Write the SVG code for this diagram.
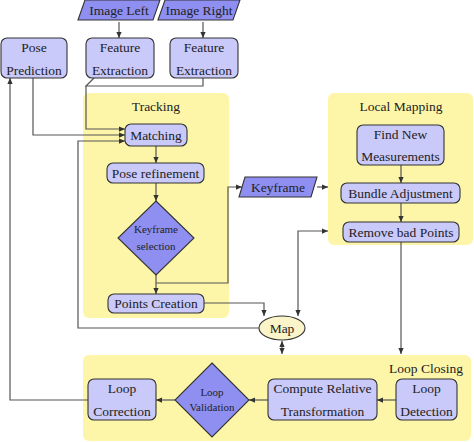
<svg xmlns="http://www.w3.org/2000/svg" width="474" height="442" viewBox="0 0 474 442" font-family="'Liberation Serif', 'Times New Roman', Times, serif">
<defs>
<style>
text{font-family:'Liberation Serif','Times New Roman',Times,'DejaVu Serif',serif;font-size:13.5px;fill:#222;text-anchor:middle}
.small{font-size:11px}
.grp{fill:#fdf6a8;stroke:none}
.box{fill:#c9c9fa;stroke:#333;stroke-width:1.1}
.dark{fill:#8f8ff2;stroke:#333;stroke-width:1.1}
.map{fill:#fbf4c8;stroke:#333;stroke-width:1.1}
.c{fill:none;stroke:#555;stroke-width:1.2}
</style>
<marker id="ah" viewBox="0 0 8 8" refX="8" refY="4" markerWidth="6" markerHeight="6" orient="auto-start-reverse" markerUnits="userSpaceOnUse">
<path d="M0,0.5 L8,4 L0,7.5 Z" fill="#333"/>
</marker>
</defs>
<g id="tracking">
<rect class="grp" x="83" y="93" width="146" height="225" rx="6"/>
<text x="156" y="111">Tracking</text>
</g>
<g id="local-mapping">
<rect class="grp" x="328" y="93" width="145" height="152" rx="6"/>
<text x="401" y="111">Local Mapping</text>
</g>
<g id="loop-closing">
<rect class="grp" x="83" y="355" width="388" height="86" rx="6"/>
<text x="463" y="373" style="text-anchor:end">Loop Closing</text>
</g>
<g id="connectors">
<path class="c" d="M119,22 V38" marker-end="url(#ah)"/>
<path class="c" d="M203,22 V38" marker-end="url(#ah)"/>
<path class="c" d="M94,78 L86,86 H203 V78"/>
<path class="c" d="M86,86 V129 H125" marker-end="url(#ah)"/>
<path class="c" d="M33,78 V135 H125" marker-end="url(#ah)"/>
<path class="c" d="M259,328 H78 V141 H125" marker-end="url(#ah)"/>
<path class="c" d="M156,146 V163" marker-end="url(#ah)"/>
<path class="c" d="M156,183 V201" marker-end="url(#ah)"/>
<path class="c" d="M156,275 V294" marker-end="url(#ah)"/>
<path class="c" d="M156,283 H228 V187 H242" marker-end="url(#ah)"/>
<path class="c" d="M317,187 H328" marker-end="url(#ah)"/>
<path class="c" d="M401,165 V183" marker-end="url(#ah)"/>
<path class="c" d="M401,203 V222" marker-end="url(#ah)"/>
<path class="c" d="M204,303 H264 V316" marker-end="url(#ah)"/>
<path class="c" d="M298,316 V231 H328" marker-start="url(#ah)" marker-end="url(#ah)"/>
<path class="c" d="M282,341 V354" marker-start="url(#ah)" marker-end="url(#ah)"/>
<path class="c" d="M401,242 V354" marker-end="url(#ah)"/>
<path class="c" d="M396,400 H377" marker-end="url(#ah)"/>
<path class="c" d="M268,400 H249" marker-end="url(#ah)"/>
<path class="c" d="M175,400 H156" marker-end="url(#ah)"/>
<path class="c" d="M88,400 H10 V78" marker-end="url(#ah)"/>
</g>
<g id="image-left">
<path class="dark" d="M85,0 H160 L153,20 H78 Z"/>
<text x="119" y="15">Image Left</text>
</g>
<g id="image-right">
<path class="dark" d="M165,0 H240 L233,20 H158 Z"/>
<text x="199" y="15">Image Right</text>
</g>
<g id="pose-prediction">
<rect class="box" x="1" y="38" width="66" height="40" rx="6"/>
<text x="34" y="52">Pose</text>
<text x="34" y="75">Prediction</text>
</g>
<g id="feature-extraction-left">
<rect class="box" x="86" y="38" width="68" height="40" rx="6"/>
<text x="120" y="52">Feature</text>
<text x="120" y="75">Extraction</text>
</g>
<g id="feature-extraction-right">
<rect class="box" x="170" y="38" width="68" height="40" rx="6"/>
<text x="204" y="52">Feature</text>
<text x="204" y="75">Extraction</text>
</g>
<g id="matching">
<rect class="box" x="125" y="124" width="62" height="22" rx="6"/>
<text x="156" y="139.5">Matching</text>
</g>
<g id="pose-refinement">
<rect class="box" x="107" y="163" width="97" height="20" rx="6"/>
<text x="155.5" y="177.5">Pose refinement</text>
</g>
<g id="keyframe-selection">
<path class="dark" d="M156,201 L194,238 L156,275 L118,238 Z"/>
<text class="small" x="156" y="233">Keyframe</text>
<text class="small" x="156" y="250">selection</text>
</g>
<g id="points-creation">
<rect class="box" x="108" y="294" width="96" height="19" rx="6"/>
<text x="156" y="308">Points Creation</text>
</g>
<g id="keyframe">
<path class="dark" d="M245,177 H317 L311,197 H239 Z"/>
<text x="278" y="191.5">Keyframe</text>
</g>
<g id="find-new-measurements">
<rect class="box" x="357" y="125" width="87" height="40" rx="6"/>
<text x="400.5" y="139">Find New</text>
<text x="400.5" y="161">Measurements</text>
</g>
<g id="bundle-adjustment">
<rect class="box" x="341" y="183" width="119" height="20" rx="6"/>
<text x="400.5" y="197.5">Bundle Adjustment</text>
</g>
<g id="remove-bad-points">
<rect class="box" x="343" y="222" width="116" height="20" rx="6"/>
<text x="401" y="236.5">Remove bad Points</text>
</g>
<g id="map">
<ellipse class="map" cx="282" cy="328" rx="23" ry="12"/>
<text x="282" y="332.5">Map</text>
</g>
<g id="loop-correction">
<rect class="box" x="88" y="379" width="68" height="41" rx="6"/>
<text x="122" y="393">Loop</text>
<text x="122" y="416">Correction</text>
</g>
<g id="loop-validation">
<path class="dark" d="M212,363 L249,400 L212,437 L175,400 Z"/>
<text class="small" x="212" y="396">Loop</text>
<text class="small" x="212" y="411">Validation</text>
</g>
<g id="compute-relative-transformation">
<rect class="box" x="268" y="379" width="109" height="41" rx="6"/>
<text x="322.5" y="393">Compute Relative</text>
<text x="322.5" y="416">Transformation</text>
</g>
<g id="loop-detection">
<rect class="box" x="396" y="379" width="61" height="41" rx="6"/>
<text x="426.5" y="393">Loop</text>
<text x="426.5" y="416">Detection</text>
</g>
</svg>
